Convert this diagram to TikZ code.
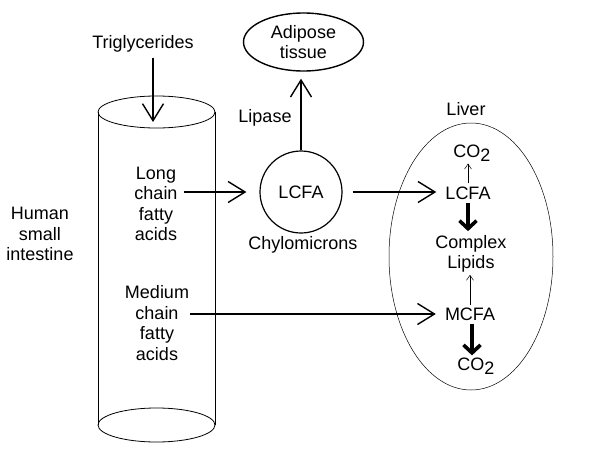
\documentclass[tikz,border=0pt]{standalone}
\usepackage{fontspec}
\setmainfont{Liberation Sans}
\usetikzlibrary{positioning,calc,arrows.meta,shapes}

\newcommand{\cotwo}{CO\raisebox{-0.45ex}{2}}

\begin{document}
\begin{tikzpicture}[x=1pt,y=-1pt,
    label text/.style={align=center,inner sep=1pt,font=\fontsize{18}{20.5}\selectfont},
    main arrow/.style={line width=1.4pt,-{Straight Barb[length=17pt,width=21pt,line width=1.4pt]}},
    thin arrow/.style={line width=0.5pt,-{Straight Barb[length=5pt,width=7pt,line width=0.5pt]}},
    thick arrow/.style={line width=3.6pt,-{Straight Barb[length=8pt,width=17pt,line width=3.6pt]}}]
    \useasboundingbox (0,0) rectangle (590,469);

    % Intestine
    \draw[line width=0.8pt] (98,112) -- (98,425) (215,112) -- (215,425);
    \draw[line width=0.8pt] (156.5,112) ellipse [x radius=58.5, y radius=16];
    \draw[line width=0.8pt] (156.5,425) ellipse [x radius=58.5, y radius=17];
    \node[label text] (Human) at (40,234) {Human\\small\\intestine};
    \node[label text] (Triglycerides) at (143,44) {Triglycerides};
    \coordinate (Gut) at (153,122);
    \node[label text] (LongFA) at (156,204) {Long\\chain\\fatty\\acids};
    \node[label text] (MediumFA) at (157,323) {Medium\\chain\\fatty\\acids};

    % Chylomicrons
    \node[draw,circle,line width=1.2pt,minimum size=82pt,label text] (Chylo) at (301,192) {LCFA};
    \node[label text] (Chylomicrons) at (303,245) {Chylomicrons};
    \node[draw,ellipse,line width=1.4pt,minimum width=120pt,minimum height=58pt,label text] (Adipose) at (303.5,42) {Adipose\\tissue};
    \node[label text] (Lipase) at (265,118) {Lipase};

    % Liver
    \node[draw,ellipse,line width=0.5pt,minimum width=164pt,minimum height=267pt] (Liver) at (471,256.5) {};
    \node[label text] (LiverName) at (466,109) {Liver};
    \node[label text] (CO2top) at (472,153) {\cotwo};
    \node[label text] (LCFA) at (468,193) {LCFA};
    \node[label text] (Complex) at (471,254) {Complex\\Lipids};
    \node[label text] (MCFA) at (470,314) {MCFA};
    \node[label text] (CO2bot) at (476,366) {\cotwo};

    % Arrows
    \draw[main arrow,shorten <=4pt] (Triglycerides.south -| Gut) -- (Gut);
    \draw[main arrow,shorten <=5pt,shorten >=13pt] (LongFA.east |- Chylo.west) -- (Chylo.west);
    \draw[main arrow,shorten >=7pt] (Chylo.north) -- (Chylo.north |- Adipose.south);
    \draw[main arrow,shorten <=10pt,shorten >=8pt] (Chylo.east) -- (Chylo.east -| LCFA.west);
    \draw[main arrow,shorten >=8pt] (MediumFA.east |- MCFA.west) -- (MCFA.west);
    \draw[thin arrow,shorten <=2pt,shorten >=1pt] (LCFA.north) -- (LCFA.north |- CO2top.south);
    \draw[thick arrow,shorten <=2pt,shorten >=3pt] (LCFA.south) -- (LCFA.south |- Complex.north);
    \draw[thin arrow,shorten <=1pt,shorten >=1pt] (MCFA.north) -- (MCFA.north |- Complex.south);
    \draw[thick arrow,shorten <=2pt,shorten >=1pt] ($(MCFA.south)+(2,0)$) -- ($(MCFA.south |- CO2bot.north)+(2,0)$);
\end{tikzpicture}
\end{document}
